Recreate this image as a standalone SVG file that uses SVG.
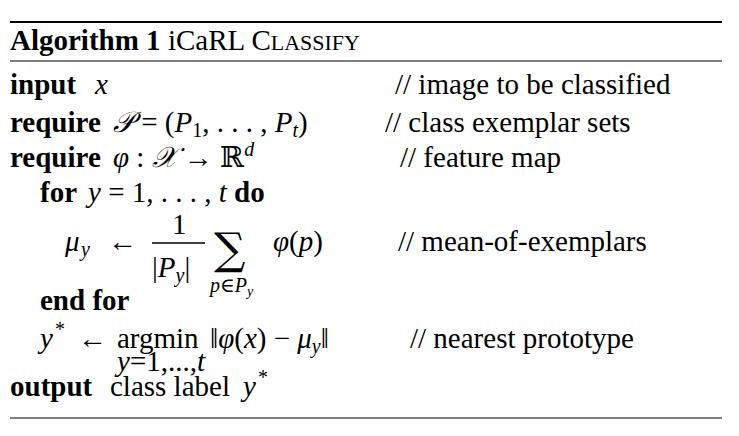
<svg xmlns="http://www.w3.org/2000/svg" width="739" height="436" viewBox="0 0 739 436">
<style>
text{font-family:"Liberation Serif","DejaVu Serif",serif;font-size:29px;fill:#000}
.b{font-weight:bold}
.i{font-style:italic}
.s{font-size:20px}
</style>
<rect width="739" height="436" fill="#fff"/>
<line x1="10" y1="22" x2="722" y2="22" stroke="#000" stroke-width="2"/>
<line x1="10" y1="61" x2="722" y2="61" stroke="#000" stroke-width="1.2"/>
<line x1="10" y1="418" x2="722" y2="418" stroke="#000" stroke-width="1.2"/>
<text x="10" y="50"><tspan class="b">Algorithm 1</tspan> iCaRL C<tspan font-size="22">LASSIFY</tspan></text>
<text x="10" y="94" class="b">input</text><text x="95" y="94" class="i">x</text>
<text x="395" y="94">// image to be classified</text>
<text x="10" y="132" class="b">require</text>
<text x="113" y="132"><tspan class="i">𝒫</tspan> = (<tspan class="i">P</tspan><tspan class="s" dy="5">1</tspan><tspan dy="-5">, . . . , </tspan><tspan class="i">P</tspan><tspan class="s i" dy="5">t</tspan><tspan dy="-5">)</tspan></text>
<text x="385" y="132">// class exemplar sets</text>
<text x="10" y="167" class="b">require</text>
<text x="113" y="167"><tspan class="i">φ</tspan> : <tspan class="i">𝒳</tspan> → ℝ<tspan class="s i" dy="-11">d</tspan></text>
<text x="400" y="167">// feature map</text>
<text x="40" y="202" class="b">for</text>
<text x="88" y="202"><tspan class="i">y</tspan> = 1, . . . , <tspan class="i">t</tspan></text>
<text x="234" y="202" class="b">do</text>
<text x="65" y="251" class="i">μ</text><text x="81" y="256" class="s i">y</text>
<text x="108" y="251">←</text>
<text x="172" y="234">1</text>
<line x1="152" y1="243" x2="205" y2="243" stroke="#000" stroke-width="1.3"/>
<text x="152" y="277">|<tspan class="i">P</tspan><tspan class="s i" dy="5">y</tspan><tspan dy="-5">|</tspan></text>
<text x="214" y="264" style="font-family:'DejaVu Serif',serif;font-size:44px">∑</text>
<text x="210" y="292" class="s"><tspan class="i">p</tspan>∈<tspan class="i">P</tspan><tspan font-size="14" class="i" dy="4">y</tspan></text>
<text x="273" y="251"><tspan class="i">φ</tspan>(<tspan class="i">p</tspan>)</text>
<text x="398" y="251">// mean-of-exemplars</text>
<text x="40" y="310" class="b">end for</text>
<text x="40" y="348" class="i">y</text><text x="55" y="336" class="s">*</text>
<text x="78" y="348">←</text>
<text x="117" y="348">argmin</text>
<text x="210" y="348">‖<tspan class="i">φ</tspan>(<tspan class="i">x</tspan>) − <tspan class="i">μ</tspan><tspan class="s i" dy="5">y</tspan><tspan dy="-5">‖</tspan></text>
<text x="117" y="371" font-size="17"><tspan class="i">y</tspan>=1,...,<tspan class="i">t</tspan></text>
<text x="410" y="348">// nearest prototype</text>
<text x="10" y="396" class="b">output</text>
<text x="110" y="396">class label</text>
<text x="243" y="396" class="i">y</text><text x="258" y="384" class="s">*</text>
</svg>
